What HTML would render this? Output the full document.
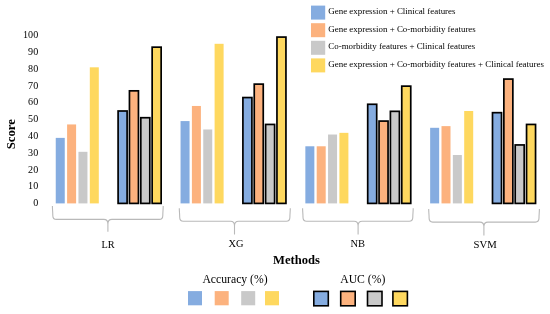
<!DOCTYPE html><html><head><meta charset="utf-8"><style>html,body{margin:0;padding:0;background:#fff;}svg{display:block;}</style></head><body>
<svg width="550" height="314" viewBox="0 0 550 314" font-family="Liberation Serif, serif" style="will-change:transform">
<rect width="550" height="314" fill="#fff"/>
<text x="38.2" y="206.10" font-size="10.1" text-anchor="end" fill="#000">0</text>
<text x="38.2" y="189.30" font-size="10.1" text-anchor="end" fill="#000">10</text>
<text x="38.2" y="172.50" font-size="10.1" text-anchor="end" fill="#000">20</text>
<text x="38.2" y="155.70" font-size="10.1" text-anchor="end" fill="#000">30</text>
<text x="38.2" y="138.90" font-size="10.1" text-anchor="end" fill="#000">40</text>
<text x="38.2" y="122.10" font-size="10.1" text-anchor="end" fill="#000">50</text>
<text x="38.2" y="105.30" font-size="10.1" text-anchor="end" fill="#000">60</text>
<text x="38.2" y="88.50" font-size="10.1" text-anchor="end" fill="#000">70</text>
<text x="38.2" y="71.70" font-size="10.1" text-anchor="end" fill="#000">80</text>
<text x="38.2" y="54.90" font-size="10.1" text-anchor="end" fill="#000">90</text>
<text x="38.2" y="38.10" font-size="10.1" text-anchor="end" fill="#000">100</text>
<rect x="55.75" y="137.88" width="9" height="65.52" fill="#85ACE0"/>
<rect x="67.10" y="124.44" width="9" height="78.96" fill="#FCB27E"/>
<rect x="78.45" y="151.82" width="9" height="51.58" fill="#C9C9C9"/>
<rect x="89.80" y="67.32" width="9" height="136.08" fill="#FED85F"/>
<rect x="118.10" y="111.00" width="9.0" height="92.40" fill="#85ACE0" stroke="#000" stroke-width="1.7"/>
<rect x="129.45" y="90.84" width="9.0" height="112.56" fill="#FCB27E" stroke="#000" stroke-width="1.7"/>
<rect x="140.80" y="117.72" width="9.0" height="85.68" fill="#C9C9C9" stroke="#000" stroke-width="1.7"/>
<rect x="152.15" y="47.16" width="9.0" height="156.24" fill="#FED85F" stroke="#000" stroke-width="1.7"/>
<rect x="180.55" y="121.08" width="9" height="82.32" fill="#85ACE0"/>
<rect x="191.90" y="105.96" width="9" height="97.44" fill="#FCB27E"/>
<rect x="203.25" y="129.48" width="9" height="73.92" fill="#C9C9C9"/>
<rect x="214.60" y="43.80" width="9" height="159.60" fill="#FED85F"/>
<rect x="242.90" y="97.56" width="9.0" height="105.84" fill="#85ACE0" stroke="#000" stroke-width="1.7"/>
<rect x="254.25" y="84.12" width="9.0" height="119.28" fill="#FCB27E" stroke="#000" stroke-width="1.7"/>
<rect x="265.60" y="124.44" width="9.0" height="78.96" fill="#C9C9C9" stroke="#000" stroke-width="1.7"/>
<rect x="276.95" y="37.08" width="9.0" height="166.32" fill="#FED85F" stroke="#000" stroke-width="1.7"/>
<rect x="305.35" y="146.28" width="9" height="57.12" fill="#85ACE0"/>
<rect x="316.70" y="146.28" width="9" height="57.12" fill="#FCB27E"/>
<rect x="328.05" y="134.52" width="9" height="68.88" fill="#C9C9C9"/>
<rect x="339.40" y="132.84" width="9" height="70.56" fill="#FED85F"/>
<rect x="367.70" y="104.28" width="9.0" height="99.12" fill="#85ACE0" stroke="#000" stroke-width="1.7"/>
<rect x="379.05" y="121.08" width="9.0" height="82.32" fill="#FCB27E" stroke="#000" stroke-width="1.7"/>
<rect x="390.40" y="111.34" width="9.0" height="92.06" fill="#C9C9C9" stroke="#000" stroke-width="1.7"/>
<rect x="401.75" y="86.14" width="9.0" height="117.26" fill="#FED85F" stroke="#000" stroke-width="1.7"/>
<rect x="430.15" y="127.80" width="9" height="75.60" fill="#85ACE0"/>
<rect x="441.50" y="126.12" width="9" height="77.28" fill="#FCB27E"/>
<rect x="452.85" y="155.02" width="9" height="48.38" fill="#C9C9C9"/>
<rect x="464.20" y="111.00" width="9" height="92.40" fill="#FED85F"/>
<rect x="492.50" y="112.68" width="9.0" height="90.72" fill="#85ACE0" stroke="#000" stroke-width="1.7"/>
<rect x="503.85" y="79.08" width="9.0" height="124.32" fill="#FCB27E" stroke="#000" stroke-width="1.7"/>
<rect x="515.20" y="144.94" width="9.0" height="58.46" fill="#C9C9C9" stroke="#000" stroke-width="1.7"/>
<rect x="526.55" y="124.44" width="9.0" height="78.96" fill="#FED85F" stroke="#000" stroke-width="1.7"/>
<path d="M52.4,206 C52.4,210 52.8,211.4 52.8,215.4 Q52.8,219.4 56.4,219.4 L103.9,219.4 Q107.9,219.4 107.9,223.9 L107.9,231.7 M107.9,223.9 Q107.9,219.4 111.9,219.4 L159.2,219.4 Q162.79999999999998,219.4 162.79999999999998,215.4 C162.79999999999998,211.4 163.2,210 163.2,206" fill="none" stroke="#B9B9B9" stroke-width="1.1"/>
<path d="M179.3,208.2 C179.3,212.2 179.70000000000002,213.3 179.70000000000002,217.3 Q179.70000000000002,221.3 183.3,221.3 L230.5,221.3 Q234.5,221.3 234.5,225.8 L234.5,234.4 M234.5,225.8 Q234.5,221.3 238.5,221.3 L286.3,221.3 Q289.90000000000003,221.3 289.90000000000003,217.3 C289.90000000000003,213.3 290.3,212.2 290.3,208.2" fill="none" stroke="#B9B9B9" stroke-width="1.1"/>
<path d="M302.6,208.2 C302.6,212.2 303.0,213.3 303.0,217.3 Q303.0,221.3 306.6,221.3 L354.1,221.3 Q358.1,221.3 358.1,225.8 L358.1,234.6 M358.1,225.8 Q358.1,221.3 362.1,221.3 L409.2,221.3 Q412.8,221.3 412.8,217.3 C412.8,213.3 413.2,212.2 413.2,208.2" fill="none" stroke="#B9B9B9" stroke-width="1.1"/>
<path d="M428.7,209 C428.7,213 429.09999999999997,214.1 429.09999999999997,218.1 Q429.09999999999997,222.1 432.7,222.1 L479.9,222.1 Q483.9,222.1 483.9,226.6 L483.9,235.6 M483.9,226.6 Q483.9,222.1 487.9,222.1 L535.4,222.1 Q539.0,222.1 539.0,218.1 C539.0,214.1 539.4,213 539.4,209" fill="none" stroke="#B9B9B9" stroke-width="1.1"/>
<text x="108.0" y="247.8" font-size="10.3" text-anchor="middle" fill="#000">LR</text>
<text x="236" y="247.1" font-size="10.4" text-anchor="middle" fill="#000">XG</text>
<text x="357.7" y="246.8" font-size="10.5" text-anchor="middle" fill="#000">NB</text>
<text x="485.2" y="248" font-size="10.7" text-anchor="middle" fill="#000">SVM</text>
<text x="273.0" y="263.9" font-size="12.6" font-weight="bold" fill="#000">Methods</text>
<text transform="translate(15.4,134.2) rotate(-90)" font-size="12.8" font-weight="bold" text-anchor="middle" fill="#000">Score</text>
<rect x="311" y="5.60" width="14.2" height="14" fill="#85ACE0"/>
<text x="328.3" y="14.00" font-size="8.92" fill="#000">Gene expression + Clinical features</text>
<rect x="311" y="23.20" width="14.2" height="14" fill="#FCB27E"/>
<text x="328.3" y="31.60" font-size="8.92" fill="#000">Gene expression + Co-morbidity features</text>
<rect x="311" y="40.80" width="14.2" height="14" fill="#C9C9C9"/>
<text x="328.3" y="49.20" font-size="8.92" fill="#000">Co-morbidity features + Clinical features</text>
<rect x="311" y="58.40" width="14.2" height="14" fill="#FED85F"/>
<text x="328.3" y="66.80" font-size="8.92" fill="#000">Gene expression + Co-morbidity features + Clinical features</text>
<text x="202.4" y="282.6" font-size="11.7" fill="#000">Accuracy (%)</text>
<text x="340.2" y="282.6" font-size="11.7" fill="#000">AUC (%)</text>
<rect x="188.0" y="291.1" width="14" height="14.2" fill="#85ACE0"/>
<rect x="214.7" y="291.1" width="14" height="14.2" fill="#FCB27E"/>
<rect x="241.2" y="291.1" width="14" height="14.2" fill="#C9C9C9"/>
<rect x="265.0" y="291.1" width="14" height="14.2" fill="#FED85F"/>
<rect x="313.80" y="291.4" width="14.5" height="14.4" fill="#85ACE0" stroke="#000" stroke-width="1.6"/>
<rect x="340.70" y="291.4" width="14.5" height="14.4" fill="#FCB27E" stroke="#000" stroke-width="1.6"/>
<rect x="367.50" y="291.4" width="14.5" height="14.4" fill="#C9C9C9" stroke="#000" stroke-width="1.6"/>
<rect x="392.90" y="291.4" width="14.5" height="14.4" fill="#FED85F" stroke="#000" stroke-width="1.6"/>
</svg></body></html>
